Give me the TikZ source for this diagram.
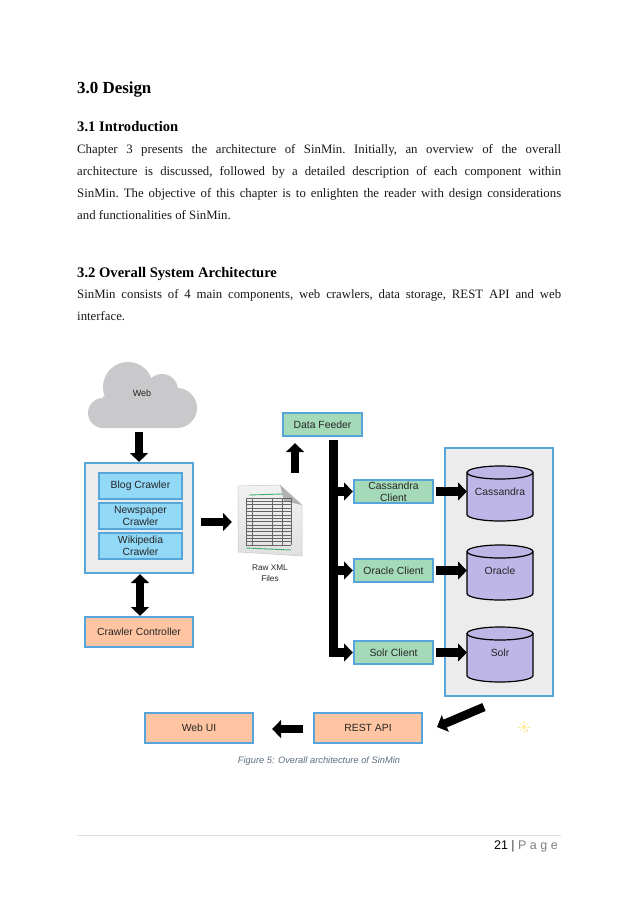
\documentclass[tikz,border=0pt]{standalone}
\usepackage{fontspec}
\setmainfont{Liberation Serif}
\setsansfont{Liberation Sans}
\usetikzlibrary{arrows.meta,calc}
\definecolor{edgeblue}{HTML}{56A5DB}
\definecolor{panelgray}{HTML}{ECECEC}
\definecolor{crawlblue}{HTML}{92D9F8}
\definecolor{feedgreen}{HTML}{A5DAB9}
\definecolor{apporange}{HTML}{FFC5A2}
\definecolor{dbpurple}{HTML}{BDB6E6}
\definecolor{cloudgray}{HTML}{C9C9CB}
\definecolor{capblue}{HTML}{5F6F82}
\definecolor{labelink}{HTML}{262626}
\definecolor{docgreen}{HTML}{3FAF72}
\tikzset{
  x=1pt,y=-1pt,
  labeltext/.style={font=\sffamily\fontsize{10.4}{12}\selectfont,text=labelink,align=center},
  box/.style={labeltext,draw=edgeblue,line width=1.2pt,inner sep=0pt,outer sep=0pt},
  panel/.style={box,fill=panelgray},
  crawlbox/.style={box,fill=crawlblue,minimum width=83pt,minimum height=26pt},
  clientbox/.style={box,fill=feedgreen,minimum width=79pt,minimum height=23pt},
  appbox/.style={box,fill=apporange,minimum width=108pt,minimum height=30pt},
  ghost/.style={labeltext,inner sep=0pt,outer sep=0pt},
  blockarrow/.style={line width=8.5pt,draw=black,-{Triangle[length=9pt,width=17.5pt]}},
  blockboth/.style={line width=8.5pt,draw=black,{Triangle[length=9pt,width=17.5pt]}-{Triangle[length=9pt,width=17.5pt]}},
  busline/.style={line width=9pt,draw=black},
  dbshape/.style={draw=black,line width=1.2pt,fill=dbpurple},
  h1text/.style={anchor=base west,inner sep=0pt,font=\rmfamily\bfseries\fontsize{16.9}{20}\selectfont},
  h2text/.style={anchor=base west,inner sep=0pt,font=\rmfamily\bfseries\fontsize{14.6}{18}\selectfont},
  bodytext/.style={anchor=base west,inner sep=0pt,font=\rmfamily\frenchspacing\fontsize{12.8}{22}\selectfont,text=black!90},
}
\newcommand{\dbcyl}[4]{%
  \begin{scope}[shift={(#2,#3)}]
    \draw[dbshape] (-33,-21) -- (-33,21) arc[start angle=180,end angle=360,x radius=33pt,y radius=6.5pt]
      -- (33,-21) arc[start angle=0,end angle=180,x radius=33pt,y radius=6.5pt] -- cycle;
    \draw[dbshape,fill=none] (-33,-21) arc[start angle=180,end angle=360,x radius=33pt,y radius=6.5pt];
  \end{scope}
  \node[ghost,minimum width=66pt,minimum height=55pt] (#1) at (#2,#3) {};
  \node[ghost] (#1text) at (#2,#3-2) {#4};
}
\newcommand{\plainline}[4]{\node[bodytext] (#1) at (77,#2) {\makebox[484pt][#3]{#4}};}
\begin{document}
\begin{tikzpicture}
\useasboundingbox (0,0) rectangle (638,902);
\fill[white] (0,0) rectangle (638,902);

% page text
\node[h1text] (title) at (77,93) {3.0 Design};
\node[h2text] (introhead) at (77,131) {3.1 Introduction};
\plainline{la}{153.3}{s}{Chapter 3 presents the architecture of SinMin. Initially, an overview of the overall}
\plainline{lb}{175.4}{s}{architecture is discussed, followed by a detailed description of each component within}
\plainline{lc}{197.6}{s}{SinMin. The objective of this chapter is to enlighten the reader with design considerations}
\plainline{ld}{219.8}{l}{and functionalities of SinMin.}
\node[h2text] (archhead) at (77,277) {3.2 Overall System Architecture};
\plainline{le}{298}{s}{SinMin consists of 4 main components, web crawlers, data storage, REST API and web}
\plainline{lf}{320}{l}{interface.}

% cloud
\fill[cloudgray] (128,387) circle[radius=25pt] (103,413) circle[radius=15pt]
  (162,390) circle[radius=16pt] (177,408) circle[radius=20pt] (103,396) rectangle (177,428);
\node[ghost,minimum width=109pt,minimum height=66pt] (cloud) at (142.5,395) {};
\node[ghost] (webtext) at (142,393) {\fontsize{9}{11}\selectfont Web};

% crawler panel
\node[panel,minimum width=108pt,minimum height=110pt] (crawlers) at (139,518) {};
\node[crawlbox] (blog) at (140.5,486) {Blog Crawler};
\node[crawlbox] (news) at (140.5,516) {Newspaper\\Crawler};
\node[crawlbox] (wiki) at (140.5,546) {Wikipedia\\Crawler};
\node[appbox] (controller) at (139,632) {Crawler Controller};

% xml document
\node[ghost,minimum width=64pt,minimum height=74pt] (doc) at (270,522) {};
\shade[top color=white!95!black,bottom color=black!12,draw=black!22,line width=.5pt]
  (238,486) -- (280,485) -- (302,505) -- (302,556) -- (238,552) -- cycle;
\fill[black!30] (280,485) -- (302,505) -- (284,501) -- cycle;
\draw[docgreen,line width=.9pt] (249,495) -- (283,494) (246,548) -- (291,550);
\foreach \r in {0,...,14} \draw[black!60,line width=.45pt] (246,498+3.35*\r) -- (291,498+3.35*\r);
\foreach \c in {246,252,272,282,291} \draw[black!60,line width=.5pt] (\c,498) -- (\c,545);
\node[ghost,font=\sffamily\fontsize{8.2}{10.5}\selectfont] (xmltext) at (270,573) {Raw XML\\Files};

% data feeder and clients
\node[clientbox] (feeder) at (322.5,424.5) {Data Feeder};
\node[clientbox] (cassclient) at (393.5,491.5) {Cassandra\\Client};
\node[clientbox] (oraclient) at (393.5,570.5) {Oracle Client};
\node[clientbox] (solrclient) at (393.5,652.5) {Solr Client};

% database panel
\node[panel,minimum width=108pt,minimum height=248pt] (dbpanel) at (499,572) {};
\dbcyl{cassdb}{500}{493.5}{Cassandra}
\dbcyl{oradb}{500}{572.5}{Oracle}
\dbcyl{solrdb}{500}{654.5}{Solr}

% bottom row
\node[appbox] (webui) at (199,728) {Web UI};
\node[appbox] (rest) at (368,728) {REST API};

% connectors
\draw[blockarrow] (cloud.south -| crawlers.north) ++(0,4) -- ([yshift=1pt]crawlers.north);
\draw[blockboth] ([xshift=1pt,yshift=-1pt]crawlers.south) -- ([xshift=1pt,yshift=1pt]controller.north);
\draw[blockarrow] ([xshift=8pt]crawlers.east |- doc) -- ([xshift=-6pt]doc.west);
\draw[blockarrow] ([xshift=25pt,yshift=12pt]doc.north) -- ([xshift=-27.5pt,yshift=-7pt]feeder.south);
\coordinate (bustop) at ([xshift=11pt,yshift=-4pt]feeder.south);
\draw[busline,line cap=butt] (bustop) -- ([yshift=-4.5pt]bustop |- solrclient);
\foreach \c in {cassclient,oraclient,solrclient}
  \draw[blockarrow] ([xshift=-0.5pt]bustop |- \c) -- ([xshift=-1pt]\c.west);
\draw[blockarrow] ([xshift=3pt]cassclient.east) -- (cassdb.west |- cassclient);
\draw[blockarrow] ([xshift=3pt]oraclient.east) -- (oradb.west |- oraclient);
\draw[blockarrow] ([xshift=3pt]solrclient.east) -- (solrdb.west |- solrclient);
\coordinate (diagstart) at (484,707);
\draw[blockarrow] (diagstart) -- ([xshift=15pt,yshift=1pt]rest.east);
\draw[blockarrow] ([xshift=-11pt,yshift=-1pt]rest.west) -- ([xshift=19pt,yshift=-1pt]webui.east);

% small light-bulb mark
\foreach \a in {0,45,...,315}
  \draw[yellow!60!orange!35,line width=.5pt] ($(524,727)+(\a:3pt)$) -- ($(524,727)+(\a:6pt)$);
\fill[yellow!70!orange!40] (524,727) circle[radius=2pt];
\fill[orange!40] (527,731) circle[radius=.9pt];

% caption and footer
\node[inner sep=0pt,font=\sffamily\itshape\fontsize{9.3}{11}\selectfont,text=capblue] (caption) at (319,761) {Figure 5: Overall architecture of SinMin};
\coordinate (footl) at (77,835);
\coordinate (footr) at (561,835);
\draw[black!12,line width=.8pt] (footl) -- (footr);
\node[anchor=base east,inner sep=0pt,font=\sffamily\fontsize{12.5}{15}\selectfont] (pageno) at (558,849) {21 \textcolor{black!75}{|} \textcolor{black!50}{P a g e}};
\end{tikzpicture}
\end{document}
